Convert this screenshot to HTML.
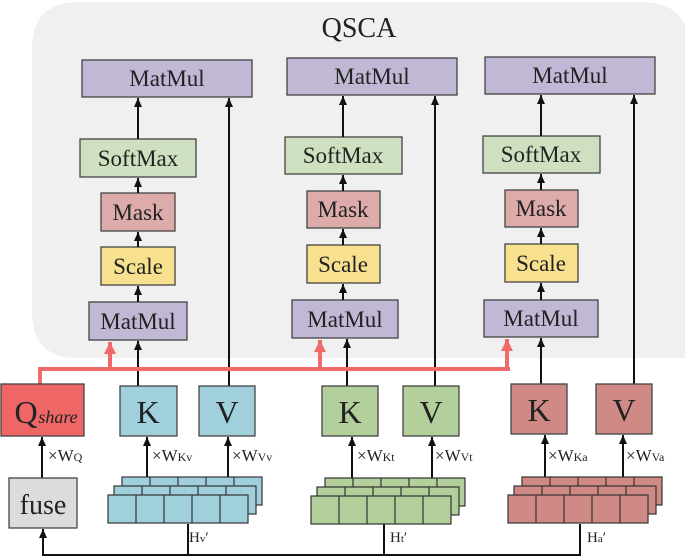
<!DOCTYPE html>
<html><head><style>body{margin:0;background:#fff}svg{display:block}text{font-family:"Liberation Serif","Times New Roman",serif;fill:#222}</style></head><body>
<svg width="685" height="556" viewBox="0 0 685 556" xmlns="http://www.w3.org/2000/svg">
<defs>
<marker id="a" markerWidth="9" markerHeight="8" refX="9" refY="4" orient="auto" markerUnits="userSpaceOnUse" viewBox="0 0 9 8"><path d="M0,0 L9,4 L0,8 z" fill="#111"/></marker>
<marker id="r" markerWidth="12" markerHeight="12" refX="12" refY="6" orient="auto" markerUnits="userSpaceOnUse" viewBox="0 0 12 12"><path d="M0,0 L12,6 L0,12 z" fill="#f06a6a"/></marker>
</defs>
<path d="M32,312 L32,48 Q32,2 80,2 L640,2 Q690,2 690,50 L690,358 L78,358 Q32,358 32,312 Z" fill="#f0f0f0"/>
<text x="359" y="37" font-size="28" text-anchor="middle">QSCA</text>
<g stroke="#444" stroke-width="1.3">
<rect x="82" y="60" width="170" height="37" fill="#c0b8d4"/>
<rect x="80" y="139" width="116" height="38" fill="#cfe0c0"/>
<rect x="101" y="193" width="74" height="38" fill="#deabab"/>
<rect x="101" y="247" width="74" height="38" fill="#f7e18f"/>
<rect x="89" y="302" width="98" height="38" fill="#c0b8d4"/>
<rect x="287" y="58" width="170" height="37" fill="#c0b8d4"/>
<rect x="285" y="137" width="117" height="37" fill="#cfe0c0"/>
<rect x="307" y="191" width="73" height="37" fill="#deabab"/>
<rect x="307" y="245" width="73" height="38" fill="#f7e18f"/>
<rect x="292" y="300" width="106" height="38" fill="#c0b8d4"/>
<rect x="485" y="57" width="170" height="37" fill="#c0b8d4"/>
<rect x="483" y="136" width="117" height="37" fill="#cfe0c0"/>
<rect x="505" y="190" width="73" height="37" fill="#deabab"/>
<rect x="505" y="244" width="73" height="38" fill="#f7e18f"/>
<rect x="484" y="300" width="114" height="37" fill="#c0b8d4"/>
</g>
<g font-size="23" text-anchor="middle">
<text x="167" y="86">MatMul</text><text x="138" y="166">SoftMax</text><text x="138" y="220">Mask</text><text x="138" y="274">Scale</text><text x="138" y="329">MatMul</text>
<text x="372" y="84">MatMul</text><text x="343" y="163">SoftMax</text><text x="343" y="217">Mask</text><text x="343" y="272">Scale</text><text x="345" y="327">MatMul</text>
<text x="570" y="83">MatMul</text><text x="541" y="162">SoftMax</text><text x="541" y="216">Mask</text><text x="541" y="271">Scale</text><text x="541" y="326">MatMul</text>
</g>
<g stroke="#111" stroke-width="2" fill="none" marker-end="url(#a)">
<line x1="138" y1="139" x2="138" y2="98"/><line x1="138" y1="193" x2="138" y2="178"/><line x1="138" y1="247" x2="138" y2="232"/><line x1="138" y1="302" x2="138" y2="286"/>
<line x1="343" y1="137" x2="343" y2="96"/><line x1="343" y1="191" x2="343" y2="175"/><line x1="343" y1="245" x2="343" y2="229"/><line x1="343" y1="300" x2="343" y2="284"/>
<line x1="541" y1="136" x2="541" y2="95"/><line x1="541" y1="190" x2="541" y2="174"/><line x1="541" y1="244" x2="541" y2="228"/><line x1="541" y1="300" x2="541" y2="283"/>
<line x1="229" y1="386" x2="229" y2="98"/><line x1="435" y1="386" x2="435" y2="96"/><line x1="634" y1="384" x2="634" y2="95"/>
<line x1="138" y1="386" x2="138" y2="341"/><line x1="347" y1="386" x2="347" y2="339"/><line x1="541" y1="384" x2="541" y2="338"/>
<line x1="42" y1="478" x2="42" y2="437"/><line x1="147" y1="477" x2="147" y2="437"/><line x1="228" y1="477" x2="228" y2="437"/>
<line x1="352" y1="478" x2="352" y2="437"/><line x1="432" y1="478" x2="432" y2="437"/>
<line x1="545" y1="477" x2="545" y2="435"/><line x1="623" y1="477" x2="623" y2="435"/>
<polyline points="188,524 188,555 43,555 43,529"/>
</g>
<g stroke="#111" stroke-width="2" fill="none">
<polyline points="384,524 384,555 188,555"/><polyline points="580,524 580,555 384,555"/>
</g>
<g stroke="#f06a6a" stroke-width="4" fill="none">
<polyline points="40,384 40,369 510,369"/>
<line x1="110" y1="369" x2="110" y2="342" marker-end="url(#r)"/>
<line x1="320" y1="369" x2="320" y2="340" marker-end="url(#r)"/>
<line x1="507" y1="369" x2="507" y2="339" marker-end="url(#r)"/>
</g>
<g stroke="#444" stroke-width="1.3">
<rect x="1" y="384" width="83" height="52" fill="#ef6666"/>
<rect x="120" y="386" width="57" height="50" fill="#9fd0dc"/>
<rect x="199" y="386" width="56" height="50" fill="#9fd0dc"/>
<rect x="322" y="386" width="56" height="50" fill="#b2cf9c"/>
<rect x="403" y="386" width="56" height="50" fill="#b2cf9c"/>
<rect x="511" y="384" width="56" height="50" fill="#cf8a85"/>
<rect x="596" y="384" width="56" height="50" fill="#cf8a85"/>
<rect x="9" y="478" width="68" height="50" fill="#dcdcdc"/>
</g>
<g font-size="32" text-anchor="middle">
<text x="26" y="423">Q</text><text x="58" y="423" font-size="18" font-style="italic">share</text>
<text x="148" y="423">K</text><text x="227" y="423">V</text>
<text x="350" y="423">K</text><text x="431" y="423">V</text>
<text x="539" y="421">K</text><text x="624" y="421">V</text>
<text x="43" y="514" font-size="28">fuse</text>
</g>
<g font-size="17">
<text x="48" y="461">×W<tspan font-size="12">Q</tspan></text>
<text x="152" y="461">×W<tspan font-size="12">Kv</tspan></text>
<text x="232" y="461">×W<tspan font-size="12">Vv</tspan></text>
<text x="357" y="461">×W<tspan font-size="12">Kt</tspan></text>
<text x="435" y="461">×W<tspan font-size="12">Vt</tspan></text>
<text x="548" y="461">×W<tspan font-size="12">Ka</tspan></text>
<text x="626" y="461">×W<tspan font-size="12">Va</tspan></text>
<text x="189" y="542" font-size="15">H<tspan font-size="11">v</tspan>′</text>
<text x="390" y="542" font-size="15">H<tspan font-size="11">t</tspan>′</text>
<text x="587" y="542" font-size="15">H<tspan font-size="11">a</tspan>′</text>
</g>
<g stroke="#333" stroke-width="1.2">
<g fill="#9fd0dc">
<rect x="122" y="477" width="140" height="28"/><rect x="114" y="486" width="142" height="28"/><rect x="108" y="495" width="140" height="28"/>
<path d="M136,495 V523 M164,495 V523 M192,495 V523 M220,495 V523" fill="none"/>
<path d="M142,486 V495 M170,486 V495 M198,486 V495 M226,486 V495 M150,477 V486 M178,477 V486 M206,477 V486 M234,477 V486" fill="none"/>
</g>
<g fill="#b2cf9c">
<rect x="325" y="478" width="140" height="28"/><rect x="317" y="487" width="142" height="28"/><rect x="311" y="496" width="140" height="28"/>
<path d="M339,496 V524 M367,496 V524 M395,496 V524 M423,496 V524 M345,487 V496 M373,487 V496 M401,487 V496 M429,487 V496 M353,478 V487 M381,478 V487 M409,478 V487 M437,478 V487" fill="none"/>
</g>
<g fill="#cf8a85">
<rect x="522" y="477" width="140" height="28"/><rect x="514" y="486" width="142" height="28"/><rect x="508" y="495" width="140" height="28"/>
<path d="M536,495 V523 M564,495 V523 M592,495 V523 M620,495 V523 M542,486 V495 M570,486 V495 M598,486 V495 M626,486 V495 M550,477 V486 M578,477 V486 M606,477 V486 M634,477 V486" fill="none"/>
</g>
</g>
</svg>
</body></html>
